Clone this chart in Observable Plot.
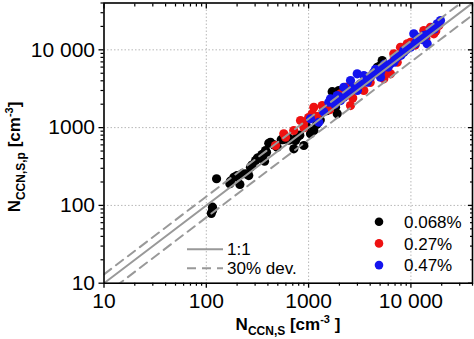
<!DOCTYPE html>
<html><head><meta charset="utf-8">
<script src="https://cdn.jsdelivr.net/npm/d3@7"></script>
<script src="https://cdn.jsdelivr.net/npm/@observablehq/plot@0.6"></script>
<style>
body{margin:0;background:#fff;}
#chart{position:relative;width:474px;height:339px;}
svg{overflow:visible;}
</style></head><body><div id="chart"></div>
<script>
// ---- data ----
const seriesNames = ["0.068%", "0.27%", "0.47%"];
const seriesColors = ["#000000", "#ee1111", "#1414ee"];

const blackX = [126,115,115,112,172,170,186,200,213,224,242,260,270,303,319,339,371,388,408,493,424,379,365,315,745,774,1124,1044,898,717,1904,1973,2208,2384,1763,1637,1832,1700,4688,5045,8855,5240,560,640,1300,2600,460,540,650,820,950,1500,1200,2000,2100,280,350];
const blackY = [220,95,86,79,205,190,230,242,186,255,255,242,310,378,409,416,370,483,630,560,649,508,460,397,682,753,918,832,589,534,1503,3000,3153,3305,2716,2228,1828,2900,5970,6280,10800,7280,700,690,1250,2900,600,700,720,800,1050,1650,1100,2300,2500,330,450];

const redX = [475,572,595,716,834,898,1084,1124,1358,1408,1701,1904,2051,2295,2568,3214,3465,1904,6320,5433,7910,9200,6800,15540,13370,16750,12410,7910,6800,7350,18740,9910,14000,11000,17500,5800,4200,1000,1200,1600,2500,3000,4000,2700,900];
const redY = [589,832,753,918,1233,1172,1503,1828,1923,1660,2121,2344,2716,3305,1923,3305,3000,2228,4914,4237,8885,11940,7280,19500,17700,16060,13840,10800,8885,6930,20500,12520,14000,11500,17500,5300,4800,1350,1400,1700,2900,3400,3800,2400,1000];

const blueX = [1044,1258,1637,1576,2384,2208,2051,2985,3465,4027,2568,2208,1904,3214,3740,2766,4338,5045,5433,6320,7350,8520,5045,2051,19470,18070,15540,13370,11520,9910,8520,6800,14430,10670,16750,4500,5500,7000,8000,12000,11000,14000,1400,1800,2600,3000,3800,4800,6000,9000,13000,17000];
const blueY = [1297,1172,2344,2121,2716,2459,2459,4914,4675,4447,4031,3305,2585,3655,3832,3305,5152,5152,5970,6610,8040,9800,4447,2228,23800,21600,17700,15280,13190,10800,9310,6930,11940,16060,19500,5600,6500,7500,8500,14500,12000,15500,1600,2000,3000,3000,4200,5500,6000,10000,13500,18500];

const majorTicks = [10, 100, 1000, 10000];
const tickLabels = ["10", "100", "1000", "10 000"];
const minorTicks = [20,30,40,50,60,70,80,90,200,300,400,500,600,700,800,900,2000,3000,4000,5000,6000,7000,8000,9000,20000,30000,40000];
const gridTicks = [100, 1000, 10000];
const lineEnds = [10, 40000];
const deviation = 0.3;
const lineLabels = ["1:1", "30% dev."];

// ---- build ----
const toRows = (xs, ys) => xs.map((x, i) => ({x, y: ys[i]}));
const seriesRows = [toRows(blackX, blackY), toRows(redX, redY), toRows(blueX, blueY)];
const fmt = d => tickLabels[majorTicks.indexOf(d)];
const FONT = "'Liberation Sans', Arial, Helvetica, sans-serif";

const plot = Plot.plot({
  width: 474, height: 339,
  marginLeft: 103.5, marginRight: 2, marginTop: 2.5, marginBottom: 56.3,
  style: {fontFamily: FONT, fontSize: "21px", color: "#000", background: "#fff", overflow: "visible"},
  x: {type: "log", domain: [10, 40000], axis: null},
  y: {type: "log", domain: [10, 40000], axis: null},
  marks: [
    Plot.gridX(gridTicks, {stroke: "#b8b8b8", strokeOpacity: 1, strokeDasharray: "1.5,2", strokeWidth: 1}),
    Plot.gridY(gridTicks, {stroke: "#b8b8b8", strokeOpacity: 1, strokeDasharray: "1.5,2", strokeWidth: 1}),
    ...seriesRows.map((rows, i) => Plot.dot(rows, {x: "x", y: "y", r: 4.6, fill: seriesColors[i], stroke: "none"})),
    Plot.line(lineEnds, {x: d => d, y: d => d, stroke: "#999", strokeWidth: 2, clip: true}),
    Plot.line(lineEnds, {x: d => d, y: d => d * (1 + deviation), stroke: "#999", strokeWidth: 2, strokeDasharray: "9,6", clip: true}),
    Plot.line(lineEnds, {x: d => d, y: d => d * (1 - deviation), stroke: "#999", strokeWidth: 2, strokeDasharray: "9,6", clip: true}),
    Plot.frame({stroke: "#000", strokeWidth: 1.6}),
    Plot.axisX(majorTicks, {anchor: "bottom", tickSize: 5, tickPadding: 5, tickFormat: fmt, fontSize: 21, label: null, strokeWidth: 1.3}),
    Plot.axisX(minorTicks, {anchor: "bottom", tickSize: 3, text: null, label: null, strokeWidth: 1.2}),
    Plot.axisX(majorTicks, {anchor: "top", tickSize: 5, insetTop: 5, text: null, label: null, strokeWidth: 1.3}),
    Plot.axisX(minorTicks, {anchor: "top", tickSize: 3, insetTop: 3, text: null, label: null, strokeWidth: 1.2}),
    Plot.axisY(majorTicks, {anchor: "left", tickSize: 5, tickPadding: 4, tickFormat: fmt, fontSize: 21, label: null, strokeWidth: 1.3}),
    Plot.axisY(minorTicks, {anchor: "left", tickSize: 3, text: null, label: null, strokeWidth: 1.2}),
    Plot.axisY(majorTicks, {anchor: "right", tickSize: 5, insetRight: 5, text: null, label: null, strokeWidth: 1.3}),
    Plot.axisY(minorTicks, {anchor: "right", tickSize: 3, insetRight: 3, text: null, label: null, strokeWidth: 1.2})
  ]
});
document.getElementById("chart").appendChild(plot);

const svg = d3.select(plot);
// axis titles
const xl = svg.append("text").attr("x", 288).attr("y", 330).attr("text-anchor", "middle")
  .style("font-family", FONT).style("font-weight", "bold").style("font-size", "17px").attr("fill", "#000");
xl.append("tspan").text("N");
xl.append("tspan").attr("dy", 5).style("font-size", "12px").text("CCN,S");
xl.append("tspan").attr("dy", -5).text(" [cm");
xl.append("tspan").attr("dy", -7).style("font-size", "11px").text("-3");
xl.append("tspan").attr("dy", 7).text(" ]");

const yl = svg.append("text").attr("transform", "translate(19.5,157) rotate(-90)").attr("text-anchor", "middle")
  .style("font-family", FONT).style("font-weight", "bold").style("font-size", "17px").attr("fill", "#000");
yl.append("tspan").text("N");
yl.append("tspan").attr("dy", 5).style("font-size", "12px").text("CCN,S,p");
yl.append("tspan").attr("dy", -5).text(" [cm");
yl.append("tspan").attr("dy", -7).style("font-size", "11px").text("-3");
yl.append("tspan").attr("dy", 7).text("]");

// legend: series
seriesNames.forEach((name, i) => {
  const cy = 221.7 + i * 21.7;
  svg.append("circle").attr("cx", 379).attr("cy", cy).attr("r", 4.3).attr("fill", seriesColors[i]);
  svg.append("text").attr("x", 404).attr("y", cy + 6.3).attr("text-anchor", "start")
    .style("font-family", FONT).style("font-size", "17px").attr("fill", "#000").text(name);
});
// legend: lines
lineLabels.forEach((name, i) => {
  const cy = 249.3 + i * 19;
  svg.append("line").attr("x1", 187).attr("x2", 223).attr("y1", cy).attr("y2", cy)
    .attr("stroke", "#999").attr("stroke-width", 2).attr("stroke-dasharray", i ? "9,6" : null);
  svg.append("text").attr("x", 227).attr("y", cy + 6).attr("text-anchor", "start")
    .style("font-family", FONT).style("font-size", "17px").attr("fill", "#000").text(name);
});
</script></body></html>
